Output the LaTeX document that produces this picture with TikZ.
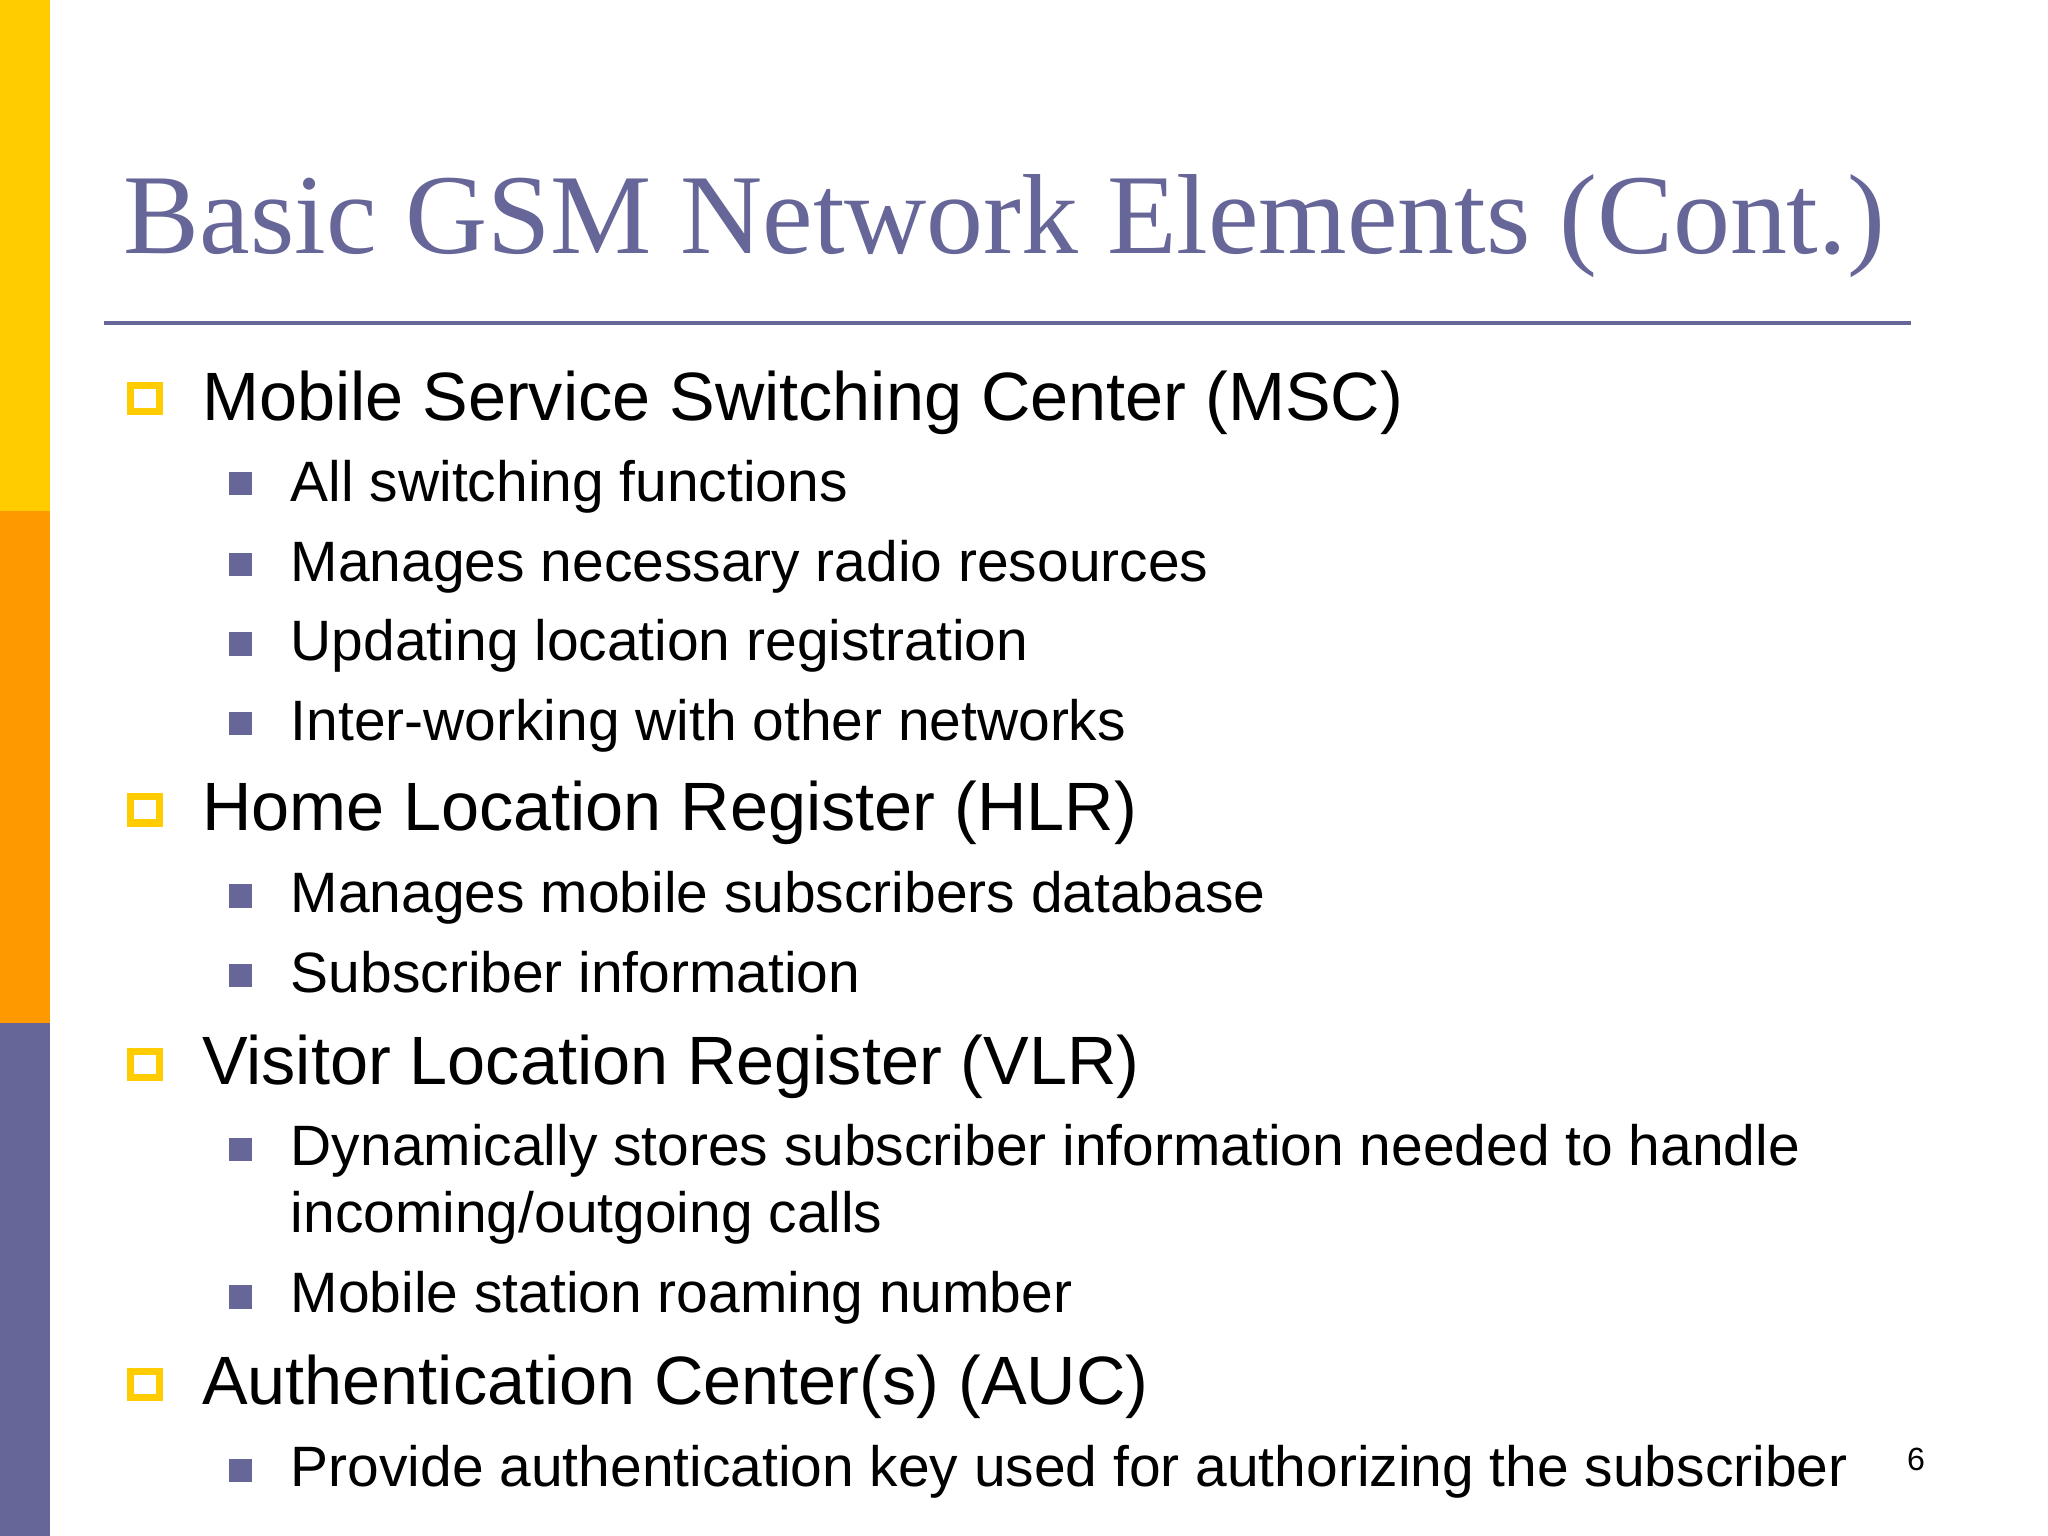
\documentclass[tikz,border=0pt]{standalone}
\usepackage{fontspec}
\setmainfont{Liberation Sans}
\newfontfamily\titlefont{Liberation Serif}
\definecolor{ppurple}{HTML}{666699}
\definecolor{pyellow}{HTML}{FFCC00}
\definecolor{porange}{HTML}{FF9900}
\begin{document}
\begin{tikzpicture}[x=0.1mm,y=-0.1mm,
  lvone/.style={anchor=base west,font=\fontsize{14.9}{18}\selectfont,inner sep=0},
  lvtwo/.style={anchor=base west,font=\fontsize{12.4}{15}\selectfont,inner sep=0},
  bone/.style={draw=pyellow,line width=1.6pt,fill=white},
  btwo/.style={fill=ppurple}]
\useasboundingbox (0,0) rectangle (1568,1176);
\fill[white] (0,0) rectangle (1568,1176);
\fill[pyellow] (0,0) rectangle (38,391);
\fill[porange] (0,391) rectangle (38,783);
\fill[ppurple] (0,783) rectangle (38,1176);
\node[anchor=base west,inner sep=0,text=ppurple,font=\titlefont\fontsize{24.8}{29}\selectfont] (title) at (94,194) {Basic GSM Network Elements (Cont.)};
\draw[ppurple,line width=0.9pt] (80,247) -- (1463,247);
\foreach \y in {305,620,815,1060}{
  \draw[bone] (100,\y-10) rectangle (122,\y+10);}
\foreach \y in {370,432,493,554,686,747,880,993,1126}{
  \fill[btwo] (175,\y-9) rectangle (193,\y+9);}
\node[lvone] (msc) at (154,322) {Mobile Service Switching Center (MSC)};
\node[lvtwo] (s1) at (222,384) {All switching functions};
\node[lvtwo] (s2) at (222,445) {Manages necessary radio resources};
\node[lvtwo] (s3) at (222,506) {Updating location registration};
\node[lvtwo] (s4) at (222,567) {Inter-working with other networks};
\node[lvone] (hlr) at (154,636) {Home Location Register (HLR)};
\node[lvtwo] (s5) at (222,699) {Manages mobile subscribers database};
\node[lvtwo] (s6) at (222,760) {Subscriber information};
\node[lvone] (vlr) at (154,830) {Visitor Location Register (VLR)};
\node[lvtwo] (s7) at (222,892) {Dynamically stores subscriber information needed to handle};
\node[lvtwo] (s7b) at (222,944) {incoming/outgoing calls};
\node[lvtwo] (s8) at (222,1005) {Mobile station roaming number};
\node[lvone] (auc) at (154,1075) {Authentication Center(s) (AUC)};
\node[lvtwo] (s9) at (222,1138) {Provide authentication key used for authorizing the subscriber};
\node[anchor=base,inner sep=0,font=\fontsize{7}{8}\selectfont] (pg) at (1467,1126) {6};
\end{tikzpicture}
\end{document}
